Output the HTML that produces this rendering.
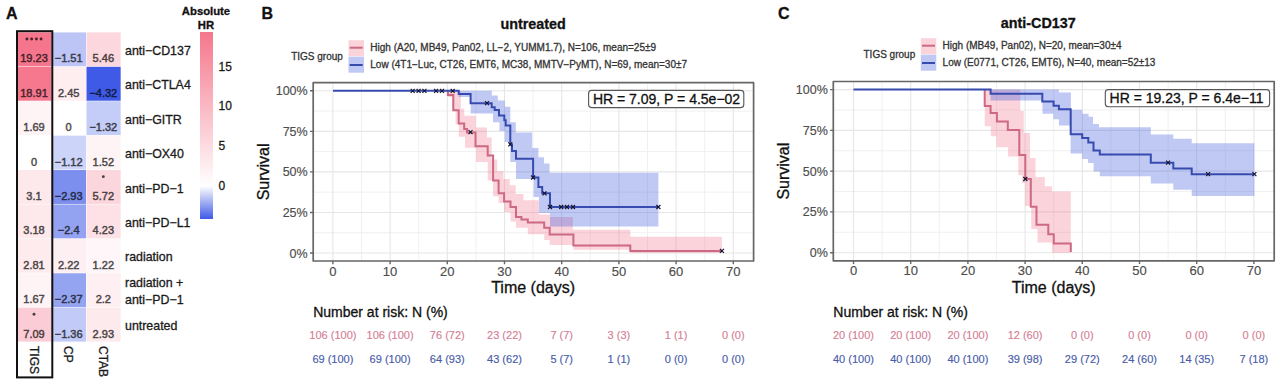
<!DOCTYPE html><html><head><meta charset="utf-8"><style>html,body{margin:0;padding:0;background:#fff;width:1280px;height:384px;overflow:hidden}svg{display:block}text{font-family:"Liberation Sans",sans-serif}</style></head><body>
<svg width="1280" height="384" viewBox="0 0 1280 384">
<rect width="1280" height="384" fill="#fff"/>
<text x="6" y="18.5" font-size="16" font-weight="bold" fill="#111" stroke="#111" stroke-width="0.3">A</text>
<text x="261.5" y="18.5" font-size="16" font-weight="bold" fill="#111" stroke="#111" stroke-width="0.3">B</text>
<text x="778" y="18.5" font-size="16" font-weight="bold" fill="#111" stroke="#111" stroke-width="0.3">C</text>
<rect x="17.20" y="32.40" width="34.15" height="33.91" fill="rgb(245,118,140)"/>
<text x="34.02" y="62.31" font-size="11" text-anchor="middle" fill="rgb(74,35,42)" stroke="rgb(74,35,42)" stroke-width="0.45">19.23</text>
<circle cx="26.97" cy="39.00" r="1.45" fill="rgb(74,35,42)"/>
<circle cx="31.67" cy="39.00" r="1.45" fill="rgb(74,35,42)"/>
<circle cx="36.38" cy="39.00" r="1.45" fill="rgb(74,35,42)"/>
<circle cx="41.08" cy="39.00" r="1.45" fill="rgb(74,35,42)"/>
<rect x="51.85" y="32.40" width="34.15" height="33.91" fill="rgb(188,197,246)"/>
<text x="68.67" y="62.31" font-size="11" text-anchor="middle" fill="rgb(56,59,74)" stroke="rgb(56,59,74)" stroke-width="0.45">−1.51</text>
<rect x="86.50" y="32.40" width="34.15" height="33.91" fill="rgb(252,216,222)"/>
<text x="103.33" y="62.31" font-size="11" text-anchor="middle" fill="rgb(76,65,67)" stroke="rgb(76,65,67)" stroke-width="0.45">5.46</text>
<text x="125" y="54.90" font-size="12.4" fill="#1a1a1a" stroke="#1a1a1a" stroke-width="0.3">anti−CD137</text>
<rect x="17.20" y="66.81" width="34.15" height="33.91" fill="rgb(245,120,142)"/>
<text x="34.02" y="96.72" font-size="11" text-anchor="middle" fill="rgb(74,36,43)" stroke="rgb(74,36,43)" stroke-width="0.45">18.91</text>
<rect x="51.85" y="66.81" width="34.15" height="33.91" fill="rgb(254,238,240)"/>
<text x="68.67" y="96.72" font-size="11" text-anchor="middle" fill="rgb(76,71,72)" stroke="rgb(76,71,72)" stroke-width="0.45">2.45</text>
<rect x="86.50" y="66.81" width="34.15" height="33.91" fill="rgb(62,90,230)"/>
<text x="103.33" y="96.72" font-size="11" text-anchor="middle" fill="rgb(19,27,69)" stroke="rgb(19,27,69)" stroke-width="0.45">−4.32</text>
<text x="125" y="89.31" font-size="12.4" fill="#1a1a1a" stroke="#1a1a1a" stroke-width="0.3">anti−CTLA4</text>
<rect x="17.20" y="101.22" width="34.15" height="33.91" fill="rgb(254,243,245)"/>
<text x="34.02" y="131.13" font-size="11" text-anchor="middle" fill="rgb(76,73,74)" stroke="rgb(76,73,74)" stroke-width="0.45">1.69</text>
<rect x="51.85" y="101.22" width="34.15" height="33.91" fill="rgb(255,255,255)"/>
<text x="68.67" y="131.13" font-size="11" text-anchor="middle" fill="rgb(76,76,76)" stroke="rgb(76,76,76)" stroke-width="0.45">0</text>
<rect x="86.50" y="101.22" width="34.15" height="33.91" fill="rgb(196,205,247)"/>
<text x="103.33" y="131.13" font-size="11" text-anchor="middle" fill="rgb(59,62,74)" stroke="rgb(59,62,74)" stroke-width="0.45">−1.32</text>
<text x="125" y="123.72" font-size="12.4" fill="#1a1a1a" stroke="#1a1a1a" stroke-width="0.3">anti−GITR</text>
<rect x="17.20" y="135.63" width="34.15" height="33.91" fill="rgb(255,255,255)"/>
<text x="34.02" y="165.54" font-size="11" text-anchor="middle" fill="rgb(76,76,76)" stroke="rgb(76,76,76)" stroke-width="0.45">0</text>
<rect x="51.85" y="135.63" width="34.15" height="33.91" fill="rgb(205,212,249)"/>
<text x="68.67" y="165.54" font-size="11" text-anchor="middle" fill="rgb(62,64,75)" stroke="rgb(62,64,75)" stroke-width="0.45">−1.12</text>
<rect x="86.50" y="135.63" width="34.15" height="33.91" fill="rgb(254,244,246)"/>
<text x="103.33" y="165.54" font-size="11" text-anchor="middle" fill="rgb(76,73,74)" stroke="rgb(76,73,74)" stroke-width="0.45">1.52</text>
<text x="125" y="158.13" font-size="12.4" fill="#1a1a1a" stroke="#1a1a1a" stroke-width="0.3">anti−OX40</text>
<rect x="17.20" y="170.04" width="34.15" height="33.91" fill="rgb(253,233,236)"/>
<text x="34.02" y="199.95" font-size="11" text-anchor="middle" fill="rgb(76,70,71)" stroke="rgb(76,70,71)" stroke-width="0.45">3.1</text>
<rect x="51.85" y="170.04" width="34.15" height="33.91" fill="rgb(124,143,238)"/>
<text x="68.67" y="199.95" font-size="11" text-anchor="middle" fill="rgb(37,43,71)" stroke="rgb(37,43,71)" stroke-width="0.45">−2.93</text>
<rect x="86.50" y="170.04" width="34.15" height="33.91" fill="rgb(252,214,221)"/>
<text x="103.33" y="199.95" font-size="11" text-anchor="middle" fill="rgb(76,64,66)" stroke="rgb(76,64,66)" stroke-width="0.45">5.72</text>
<circle cx="103.33" cy="176.64" r="1.45" fill="rgb(76,64,66)"/>
<text x="125" y="192.55" font-size="12.4" fill="#1a1a1a" stroke="#1a1a1a" stroke-width="0.3">anti−PD−1</text>
<rect x="17.20" y="204.45" width="34.15" height="33.91" fill="rgb(253,232,236)"/>
<text x="34.02" y="234.36" font-size="11" text-anchor="middle" fill="rgb(76,70,71)" stroke="rgb(76,70,71)" stroke-width="0.45">3.18</text>
<rect x="51.85" y="204.45" width="34.15" height="33.91" fill="rgb(148,163,241)"/>
<text x="68.67" y="234.36" font-size="11" text-anchor="middle" fill="rgb(44,49,72)" stroke="rgb(44,49,72)" stroke-width="0.45">−2.4</text>
<rect x="86.50" y="204.45" width="34.15" height="33.91" fill="rgb(253,225,230)"/>
<text x="103.33" y="234.36" font-size="11" text-anchor="middle" fill="rgb(76,68,69)" stroke="rgb(76,68,69)" stroke-width="0.45">4.23</text>
<text x="125" y="226.95" font-size="12.4" fill="#1a1a1a" stroke="#1a1a1a" stroke-width="0.3">anti−PD−L1</text>
<rect x="17.20" y="238.86" width="34.15" height="33.91" fill="rgb(254,235,238)"/>
<text x="34.02" y="268.77" font-size="11" text-anchor="middle" fill="rgb(76,70,71)" stroke="rgb(76,70,71)" stroke-width="0.45">2.81</text>
<rect x="51.85" y="238.86" width="34.15" height="33.91" fill="rgb(254,239,242)"/>
<text x="68.67" y="268.77" font-size="11" text-anchor="middle" fill="rgb(76,72,73)" stroke="rgb(76,72,73)" stroke-width="0.45">2.22</text>
<rect x="86.50" y="238.86" width="34.15" height="33.91" fill="rgb(254,246,248)"/>
<text x="103.33" y="268.77" font-size="11" text-anchor="middle" fill="rgb(76,74,74)" stroke="rgb(76,74,74)" stroke-width="0.45">1.22</text>
<text x="125" y="261.37" font-size="12.4" fill="#1a1a1a" stroke="#1a1a1a" stroke-width="0.3">radiation</text>
<rect x="17.20" y="273.27" width="34.15" height="33.91" fill="rgb(254,243,245)"/>
<text x="34.02" y="303.18" font-size="11" text-anchor="middle" fill="rgb(76,73,74)" stroke="rgb(76,73,74)" stroke-width="0.45">1.67</text>
<rect x="51.85" y="273.27" width="34.15" height="33.91" fill="rgb(149,164,241)"/>
<text x="68.67" y="303.18" font-size="11" text-anchor="middle" fill="rgb(45,49,72)" stroke="rgb(45,49,72)" stroke-width="0.45">−2.37</text>
<rect x="86.50" y="273.27" width="34.15" height="33.91" fill="rgb(254,239,242)"/>
<text x="103.33" y="303.18" font-size="11" text-anchor="middle" fill="rgb(76,72,73)" stroke="rgb(76,72,73)" stroke-width="0.45">2.2</text>
<text x="125" y="287.27" font-size="12.4" fill="#1a1a1a" stroke="#1a1a1a" stroke-width="0.3">radiation +</text>
<text x="125" y="304.37" font-size="12.4" fill="#1a1a1a" stroke="#1a1a1a" stroke-width="0.3">anti−PD−1</text>
<rect x="17.20" y="307.68" width="34.15" height="33.91" fill="rgb(251,204,213)"/>
<text x="34.02" y="337.59" font-size="11" text-anchor="middle" fill="rgb(75,61,64)" stroke="rgb(75,61,64)" stroke-width="0.45">7.09</text>
<circle cx="34.02" cy="314.28" r="1.45" fill="rgb(75,61,64)"/>
<rect x="51.85" y="307.68" width="34.15" height="33.91" fill="rgb(194,203,247)"/>
<text x="68.67" y="337.59" font-size="11" text-anchor="middle" fill="rgb(58,61,74)" stroke="rgb(58,61,74)" stroke-width="0.45">−1.36</text>
<rect x="86.50" y="307.68" width="34.15" height="33.91" fill="rgb(253,234,237)"/>
<text x="103.33" y="337.59" font-size="11" text-anchor="middle" fill="rgb(76,70,71)" stroke="rgb(76,70,71)" stroke-width="0.45">2.93</text>
<text x="125" y="330.18" font-size="12.4" fill="#1a1a1a" stroke="#1a1a1a" stroke-width="0.3">untreated</text>
<rect x="17" y="31.2" width="35.3" height="346.2" fill="none" stroke="#111" stroke-width="2"/>
<text transform="translate(29.62,346) rotate(90)" x="0" y="0" font-size="12" fill="#1a1a1a" dominant-baseline="auto" stroke="#1a1a1a" stroke-width="0.3">TIGS</text>
<text transform="translate(64.28,346) rotate(90)" x="0" y="0" font-size="12" fill="#1a1a1a" dominant-baseline="auto" stroke="#1a1a1a" stroke-width="0.3">CP</text>
<text transform="translate(98.93,346) rotate(90)" x="0" y="0" font-size="12" fill="#1a1a1a" dominant-baseline="auto" stroke="#1a1a1a" stroke-width="0.3">CTAB</text>
<defs><linearGradient id="cb" x1="0" y1="0" x2="0" y2="1"><stop offset="0" stop-color="rgb(245,118,140)"/><stop offset="0.8235" stop-color="#fff"/><stop offset="1" stop-color="rgb(62,90,230)"/></linearGradient></defs>
<rect x="200" y="32" width="13" height="187" fill="url(#cb)"/>
<text x="206" y="15" font-size="11.3" font-weight="bold" text-anchor="middle" fill="#111" stroke="#111" stroke-width="0.3">Absolute</text>
<text x="206" y="29.2" font-size="11.3" font-weight="bold" text-anchor="middle" fill="#111" stroke="#111" stroke-width="0.3">HR</text>
<text x="218.5" y="70.8" font-size="12" fill="#1a1a1a" stroke="#1a1a1a" stroke-width="0.3">15</text>
<text x="218.5" y="110.3" font-size="12" fill="#1a1a1a" stroke="#1a1a1a" stroke-width="0.3">10</text>
<text x="218.5" y="150.3" font-size="12" fill="#1a1a1a" stroke="#1a1a1a" stroke-width="0.3">5</text>
<text x="218.5" y="190.3" font-size="12" fill="#1a1a1a" stroke="#1a1a1a" stroke-width="0.3">0</text>
<path d="M361.50 82.70V261.00M418.70 82.70V261.00M475.90 82.70V261.00M533.10 82.70V261.00M590.30 82.70V261.00M647.50 82.70V261.00M704.70 82.70V261.00M313.20 232.72H753.60M313.20 192.18H753.60M313.20 151.62H753.60M313.20 111.08H753.60" stroke="#f0f0f0" stroke-width="1" fill="none"/>
<path d="M332.90 82.70V261.00M390.10 82.70V261.00M447.30 82.70V261.00M504.50 82.70V261.00M561.70 82.70V261.00M618.90 82.70V261.00M676.10 82.70V261.00M733.30 82.70V261.00M313.20 253.00H753.60M313.20 212.45H753.60M313.20 171.90H753.60M313.20 131.35H753.60M313.20 90.80H753.60" stroke="#e6e6e6" stroke-width="1.1" fill="none"/>
<path d="M447.90 90.80 L460.80 90.80 L460.80 108.70 L464.20 108.70 L464.20 115.70 L475.90 115.70 L475.90 127.40 L486.90 127.40 L486.90 137.50 L491.60 137.50 L491.60 159.50 L497.20 159.50 L497.20 171.25 L503.40 171.25 L503.40 179.00 L509.70 179.00 L509.70 185.30 L515.60 185.30 L515.60 194.00 L523.40 194.00 L523.40 200.30 L539.00 200.30 L539.00 214.40 L550.00 214.40 L550.00 216.90 L572.90 216.90 L572.90 229.80 L630.30 229.80 L630.30 236.80 L721.90 236.80 L721.90 253.00 L630.30 253.00 L630.30 249.70 L573.40 249.70 L573.40 245.00 L549.70 245.00 L549.70 240.00 L544.20 240.00 L544.20 234.20 L527.80 234.20 L527.80 227.80 L516.00 227.80 L516.00 221.50 L510.50 221.50 L510.50 212.00 L504.10 212.00 L504.10 203.00 L498.60 203.00 L498.60 196.25 L493.10 196.25 L493.10 180.60 L487.70 180.60 L487.70 161.90 L476.00 161.90 L476.00 147.75 L465.00 147.75 L465.00 136.80 L458.75 136.80 L458.75 124.30 L455.60 124.30 L455.60 110.00 L452.50 110.00 L452.50 97.00 L447.90 97.00Z" fill="rgb(240,110,135)" fill-opacity="0.30"/>
<path d="M458.70 90.80 L491.80 90.80 L491.80 95.50 L497.80 95.50 L497.80 100.50 L504.80 100.50 L504.80 106.70 L510.30 106.70 L510.30 122.30 L515.80 122.30 L515.80 132.50 L532.20 132.50 L532.20 148.10 L538.40 148.10 L538.40 157.20 L544.00 157.20 L544.00 163.40 L549.50 163.40 L549.50 172.80 L658.40 172.80 L658.40 226.50 L550.00 226.50 L550.00 213.00 L539.00 213.00 L539.00 197.00 L533.60 197.00 L533.60 179.00 L516.00 179.00 L516.00 161.90 L510.30 161.90 L510.30 141.90 L504.80 141.90 L504.80 131.00 L499.40 131.00 L499.40 122.30 L493.00 122.30 L493.00 113.60 L470.70 113.60 L470.70 97.00 L458.70 97.00Z" fill="rgb(60,85,220)" fill-opacity="0.32"/>
<path d="M447.9 90.8V94.9H453.3V110.2H458.7V123.5H464.2V129H467V132.5H475.5V146.2H487.7V155.6H493.1V180.6H498.6V193.2H504.1V201.4H510.5V206.9H516V216.9H521.4V219.6H527.8V222.4H544.2V227.8H549.7V234.6H573.4V245.5H630.3V250.9H721.9" stroke="rgb(205,105,130)" stroke-width="2" fill="none"/>
<path d="M333 90.8H458.7V93.9H470.6V103.2H491.7V107.2H494.7V110H499V115.4H504.3V120.2H505.7V125.4H510.3V144.4H512V151H516V158.7H533.1V177.5H538.4V187H542.2V193.3H550V207H658.4" stroke="rgb(55,75,175)" stroke-width="2" fill="none"/>
<path d="M468.50 130.20l4 4M468.50 134.20l4 -4M719.90 248.90l4 4M719.90 252.90l4 -4M410.70 88.80l4 4M410.70 92.80l4 -4M416.60 88.80l4 4M416.60 92.80l4 -4M422.40 88.80l4 4M422.40 92.80l4 -4M434.10 88.80l4 4M434.10 92.80l4 -4M440.00 88.80l4 4M440.00 92.80l4 -4M450.70 88.80l4 4M450.70 92.80l4 -4M485.00 101.20l4 4M485.00 105.20l4 -4M508.30 142.40l4 4M508.30 146.40l4 -4M531.10 175.50l4 4M531.10 179.50l4 -4M542.50 191.30l4 4M542.50 195.30l4 -4M548.00 205.00l4 4M548.00 209.00l4 -4M559.20 205.00l4 4M559.20 209.00l4 -4M565.00 205.00l4 4M565.00 209.00l4 -4M571.00 205.00l4 4M571.00 209.00l4 -4M656.40 205.00l4 4M656.40 209.00l4 -4" stroke="#151530" stroke-width="1.2" fill="none"/>
<rect x="313.20" y="82.70" width="440.40" height="178.30" fill="none" stroke="#666" stroke-width="1.7" stroke-linejoin="round"/>
<path d="M313.20 253.00h-3.2M313.20 212.45h-3.2M313.20 171.90h-3.2M313.20 131.35h-3.2M313.20 90.80h-3.2M332.90 261.00v3.2M390.10 261.00v3.2M447.30 261.00v3.2M504.50 261.00v3.2M561.70 261.00v3.2M618.90 261.00v3.2M676.10 261.00v3.2M733.30 261.00v3.2" stroke="#666" stroke-width="1.4" fill="none"/>
<text x="307.70" y="257.50" font-size="12.5" text-anchor="end" fill="#4d4d4d" stroke="#4d4d4d" stroke-width="0.15">0%</text>
<text x="307.70" y="216.95" font-size="12.5" text-anchor="end" fill="#4d4d4d" stroke="#4d4d4d" stroke-width="0.15">25%</text>
<text x="307.70" y="176.40" font-size="12.5" text-anchor="end" fill="#4d4d4d" stroke="#4d4d4d" stroke-width="0.15">50%</text>
<text x="307.70" y="135.85" font-size="12.5" text-anchor="end" fill="#4d4d4d" stroke="#4d4d4d" stroke-width="0.15">75%</text>
<text x="307.70" y="95.30" font-size="12.5" text-anchor="end" fill="#4d4d4d" stroke="#4d4d4d" stroke-width="0.15">100%</text>
<text x="332.90" y="275.50" font-size="13" text-anchor="middle" fill="#4d4d4d" stroke="#4d4d4d" stroke-width="0.15">0</text>
<text x="390.10" y="275.50" font-size="13" text-anchor="middle" fill="#4d4d4d" stroke="#4d4d4d" stroke-width="0.15">10</text>
<text x="447.30" y="275.50" font-size="13" text-anchor="middle" fill="#4d4d4d" stroke="#4d4d4d" stroke-width="0.15">20</text>
<text x="504.50" y="275.50" font-size="13" text-anchor="middle" fill="#4d4d4d" stroke="#4d4d4d" stroke-width="0.15">30</text>
<text x="561.70" y="275.50" font-size="13" text-anchor="middle" fill="#4d4d4d" stroke="#4d4d4d" stroke-width="0.15">40</text>
<text x="618.90" y="275.50" font-size="13" text-anchor="middle" fill="#4d4d4d" stroke="#4d4d4d" stroke-width="0.15">50</text>
<text x="676.10" y="275.50" font-size="13" text-anchor="middle" fill="#4d4d4d" stroke="#4d4d4d" stroke-width="0.15">60</text>
<text x="733.30" y="275.50" font-size="13" text-anchor="middle" fill="#4d4d4d" stroke="#4d4d4d" stroke-width="0.15">70</text>
<text x="533.10" y="293.00" font-size="16" text-anchor="middle" fill="#111" stroke="#111" stroke-width="0.3">Time (days)</text>
<text transform="translate(269.20,171.90) rotate(-90)" font-size="16" text-anchor="middle" fill="#111" stroke="#111" stroke-width="0.3">Survival</text>
<text x="500.40" y="28.60" font-size="14.35" font-weight="bold" fill="#111" stroke="#111" stroke-width="0.3">untreated</text>
<text x="291.20" y="59.80" font-size="10" fill="#333" stroke="#333" stroke-width="0.3">TIGS group</text>
<rect x="348.50" y="40.20" width="15.5" height="16" fill="rgb(240,110,135)" fill-opacity="0.3"/>
<rect x="348.50" y="56.70" width="15.5" height="16" fill="rgb(60,85,220)" fill-opacity="0.32"/>
<path d="M349.70 47.70h13" stroke="rgb(205,105,130)" stroke-width="2"/>
<path d="M349.70 65.00h13" stroke="rgb(55,75,175)" stroke-width="2"/>
<text x="370.30" y="51.40" font-size="10" fill="#333" stroke="#333" stroke-width="0.3">High (A20, MB49, Pan02, LL−2, YUMM1.7), N=106, mean=25±9</text>
<text x="370.30" y="68.40" font-size="10" fill="#333" stroke="#333" stroke-width="0.3">Low (4T1−Luc, CT26, EMT6, MC38, MMTV−PyMT), N=69, mean=30±7</text>
<rect x="588.60" y="90.40" width="155.20" height="17.20" rx="3" fill="#fff" stroke="#555" stroke-width="1.1"/>
<text x="592.90" y="104.20" font-size="14" fill="#111" stroke="#111" stroke-width="0.3">HR = 7.09, P = 4.5e−02</text>
<text x="313.20" y="317.2" font-size="14" fill="#111" stroke="#111" stroke-width="0.3">Number at risk: N (%)</text>
<text x="332.90" y="338.5" font-size="11" text-anchor="middle" fill="rgb(212,128,150)" stroke="rgb(212,128,150)" stroke-width="0.15">106 (100)</text>
<text x="332.90" y="363" font-size="11" text-anchor="middle" fill="rgb(72,92,168)" stroke="rgb(72,92,168)" stroke-width="0.15">69 (100)</text>
<text x="390.10" y="338.5" font-size="11" text-anchor="middle" fill="rgb(212,128,150)" stroke="rgb(212,128,150)" stroke-width="0.15">106 (100)</text>
<text x="390.10" y="363" font-size="11" text-anchor="middle" fill="rgb(72,92,168)" stroke="rgb(72,92,168)" stroke-width="0.15">69 (100)</text>
<text x="447.30" y="338.5" font-size="11" text-anchor="middle" fill="rgb(212,128,150)" stroke="rgb(212,128,150)" stroke-width="0.15">76 (72)</text>
<text x="447.30" y="363" font-size="11" text-anchor="middle" fill="rgb(72,92,168)" stroke="rgb(72,92,168)" stroke-width="0.15">64 (93)</text>
<text x="504.50" y="338.5" font-size="11" text-anchor="middle" fill="rgb(212,128,150)" stroke="rgb(212,128,150)" stroke-width="0.15">23 (22)</text>
<text x="504.50" y="363" font-size="11" text-anchor="middle" fill="rgb(72,92,168)" stroke="rgb(72,92,168)" stroke-width="0.15">43 (62)</text>
<text x="561.70" y="338.5" font-size="11" text-anchor="middle" fill="rgb(212,128,150)" stroke="rgb(212,128,150)" stroke-width="0.15">7 (7)</text>
<text x="561.70" y="363" font-size="11" text-anchor="middle" fill="rgb(72,92,168)" stroke="rgb(72,92,168)" stroke-width="0.15">5 (7)</text>
<text x="618.90" y="338.5" font-size="11" text-anchor="middle" fill="rgb(212,128,150)" stroke="rgb(212,128,150)" stroke-width="0.15">3 (3)</text>
<text x="618.90" y="363" font-size="11" text-anchor="middle" fill="rgb(72,92,168)" stroke="rgb(72,92,168)" stroke-width="0.15">1 (1)</text>
<text x="676.10" y="338.5" font-size="11" text-anchor="middle" fill="rgb(212,128,150)" stroke="rgb(212,128,150)" stroke-width="0.15">1 (1)</text>
<text x="676.10" y="363" font-size="11" text-anchor="middle" fill="rgb(72,92,168)" stroke="rgb(72,92,168)" stroke-width="0.15">0 (0)</text>
<text x="733.30" y="338.5" font-size="11" text-anchor="middle" fill="rgb(212,128,150)" stroke="rgb(212,128,150)" stroke-width="0.15">0 (0)</text>
<text x="733.30" y="363" font-size="11" text-anchor="middle" fill="rgb(72,92,168)" stroke="rgb(72,92,168)" stroke-width="0.15">0 (0)</text>
<path d="M882.10 81.50V260.80M939.30 81.50V260.80M996.50 81.50V260.80M1053.70 81.50V260.80M1110.90 81.50V260.80M1168.10 81.50V260.80M1225.30 81.50V260.80M833.30 232.31H1274.20M833.30 191.54H1274.20M833.30 150.76H1274.20M833.30 109.99H1274.20" stroke="#f0f0f0" stroke-width="1" fill="none"/>
<path d="M853.50 81.50V260.80M910.70 81.50V260.80M967.90 81.50V260.80M1025.10 81.50V260.80M1082.30 81.50V260.80M1139.50 81.50V260.80M1196.70 81.50V260.80M1253.90 81.50V260.80M833.30 252.70H1274.20M833.30 211.92H1274.20M833.30 171.15H1274.20M833.30 130.38H1274.20M833.30 89.60H1274.20" stroke="#e6e6e6" stroke-width="1.1" fill="none"/>
<path d="M984.70 89.60 L1020.30 89.60 L1020.30 111.00 L1023.75 111.00 L1023.75 133.00 L1030.00 133.00 L1030.00 158.00 L1035.50 158.00 L1035.50 177.00 L1044.80 177.00 L1044.80 186.25 L1052.00 186.25 L1052.00 191.50 L1070.80 191.50 L1070.80 252.70 L1052.00 252.70 L1052.00 242.50 L1037.50 242.50 L1037.50 229.00 L1031.25 229.00 L1031.25 206.00 L1025.00 206.00 L1025.00 183.10 L1022.20 183.10 L1022.20 175.30 L1018.30 175.30 L1018.30 156.60 L1008.10 156.60 L1008.10 147.20 L996.40 147.20 L996.40 136.25 L990.90 136.25 L990.90 126.20 L984.70 126.20Z" fill="rgb(240,110,135)" fill-opacity="0.30"/>
<path d="M990.60 89.60 L1058.90 89.60 L1058.90 92.60 L1070.90 92.60 L1070.90 109.80 L1082.30 109.80 L1082.30 113.70 L1088.60 113.70 L1088.60 116.80 L1093.00 116.80 L1093.00 123.90 L1099.00 123.90 L1099.00 127.30 L1150.80 127.30 L1150.80 134.60 L1173.30 134.60 L1173.30 138.75 L1191.70 138.75 L1191.70 143.30 L1254.40 143.30 L1254.40 196.00 L1191.70 196.00 L1191.70 189.80 L1173.30 189.80 L1173.30 183.50 L1150.80 183.50 L1150.80 176.25 L1099.80 176.25 L1099.80 171.60 L1093.60 171.60 L1093.60 163.00 L1088.10 163.00 L1088.10 159.00 L1082.20 159.00 L1082.20 153.60 L1070.60 153.60 L1070.60 125.40 L1058.90 125.40 L1058.90 119.20 L1053.40 119.20 L1053.40 113.70 L1042.50 113.70 L1042.50 100.40 L990.60 100.40Z" fill="rgb(60,85,220)" fill-opacity="0.32"/>
<path d="M984.7 89.6V105.9H990.6V112.9H996.9V121.5H1007.8V130.1H1019.3V155H1025.3V179H1030.8V206.7H1036.5V224.8H1048.3V234.2H1053.75V243.5H1070.8V251.9" stroke="rgb(205,105,130)" stroke-width="2" fill="none"/>
<path d="M853.5 89.6H990.6V93.7H1042.3V101.4H1053.6V105.7H1058.9V109.3H1070.7V134.2H1082.2V138H1088.3V142.4H1093.5V150.5H1099.8V154.6H1150.8V162.7H1173.3V168.5H1191.7V174.2H1254.4" stroke="rgb(55,75,175)" stroke-width="2" fill="none"/>
<path d="M1023.30 177.00l4 4M1023.30 181.00l4 -4M1166.10 160.70l4 4M1166.10 164.70l4 -4M1206.10 172.20l4 4M1206.10 176.20l4 -4M1252.40 172.20l4 4M1252.40 176.20l4 -4" stroke="#151530" stroke-width="1.2" fill="none"/>
<rect x="833.30" y="81.50" width="440.90" height="179.30" fill="none" stroke="#666" stroke-width="1.7" stroke-linejoin="round"/>
<path d="M833.30 252.70h-3.2M833.30 211.92h-3.2M833.30 171.15h-3.2M833.30 130.38h-3.2M833.30 89.60h-3.2M853.50 260.80v3.2M910.70 260.80v3.2M967.90 260.80v3.2M1025.10 260.80v3.2M1082.30 260.80v3.2M1139.50 260.80v3.2M1196.70 260.80v3.2M1253.90 260.80v3.2" stroke="#666" stroke-width="1.4" fill="none"/>
<text x="827.80" y="257.20" font-size="12.5" text-anchor="end" fill="#4d4d4d" stroke="#4d4d4d" stroke-width="0.15">0%</text>
<text x="827.80" y="216.42" font-size="12.5" text-anchor="end" fill="#4d4d4d" stroke="#4d4d4d" stroke-width="0.15">25%</text>
<text x="827.80" y="175.65" font-size="12.5" text-anchor="end" fill="#4d4d4d" stroke="#4d4d4d" stroke-width="0.15">50%</text>
<text x="827.80" y="134.88" font-size="12.5" text-anchor="end" fill="#4d4d4d" stroke="#4d4d4d" stroke-width="0.15">75%</text>
<text x="827.80" y="94.10" font-size="12.5" text-anchor="end" fill="#4d4d4d" stroke="#4d4d4d" stroke-width="0.15">100%</text>
<text x="853.50" y="275.30" font-size="13" text-anchor="middle" fill="#4d4d4d" stroke="#4d4d4d" stroke-width="0.15">0</text>
<text x="910.70" y="275.30" font-size="13" text-anchor="middle" fill="#4d4d4d" stroke="#4d4d4d" stroke-width="0.15">10</text>
<text x="967.90" y="275.30" font-size="13" text-anchor="middle" fill="#4d4d4d" stroke="#4d4d4d" stroke-width="0.15">20</text>
<text x="1025.10" y="275.30" font-size="13" text-anchor="middle" fill="#4d4d4d" stroke="#4d4d4d" stroke-width="0.15">30</text>
<text x="1082.30" y="275.30" font-size="13" text-anchor="middle" fill="#4d4d4d" stroke="#4d4d4d" stroke-width="0.15">40</text>
<text x="1139.50" y="275.30" font-size="13" text-anchor="middle" fill="#4d4d4d" stroke="#4d4d4d" stroke-width="0.15">50</text>
<text x="1196.70" y="275.30" font-size="13" text-anchor="middle" fill="#4d4d4d" stroke="#4d4d4d" stroke-width="0.15">60</text>
<text x="1253.90" y="275.30" font-size="13" text-anchor="middle" fill="#4d4d4d" stroke="#4d4d4d" stroke-width="0.15">70</text>
<text x="1053.70" y="292.80" font-size="16" text-anchor="middle" fill="#111" stroke="#111" stroke-width="0.3">Time (days)</text>
<text transform="translate(789.30,171.15) rotate(-90)" font-size="16" text-anchor="middle" fill="#111" stroke="#111" stroke-width="0.3">Survival</text>
<text x="1000.80" y="27.80" font-size="14.35" font-weight="bold" fill="#111" stroke="#111" stroke-width="0.3">anti-CD137</text>
<text x="863.50" y="57.80" font-size="10" fill="#333" stroke="#333" stroke-width="0.3">TIGS group</text>
<rect x="920.80" y="38.20" width="15.5" height="16" fill="rgb(240,110,135)" fill-opacity="0.3"/>
<rect x="920.80" y="54.70" width="15.5" height="16" fill="rgb(60,85,220)" fill-opacity="0.32"/>
<path d="M922.00 45.70h13" stroke="rgb(205,105,130)" stroke-width="2"/>
<path d="M922.00 63.00h13" stroke="rgb(55,75,175)" stroke-width="2"/>
<text x="942.60" y="49.40" font-size="10" fill="#333" stroke="#333" stroke-width="0.3">High (MB49, Pan02), N=20, mean=30±4</text>
<text x="942.60" y="66.40" font-size="10" fill="#333" stroke="#333" stroke-width="0.3">Low (E0771, CT26, EMT6), N=40, mean=52±13</text>
<rect x="1105.30" y="89.60" width="164.30" height="17.20" rx="3" fill="#fff" stroke="#555" stroke-width="1.1"/>
<text x="1109.60" y="103.40" font-size="14" fill="#111" stroke="#111" stroke-width="0.3">HR = 19.23, P = 6.4e−11</text>
<text x="833.30" y="317.2" font-size="14" fill="#111" stroke="#111" stroke-width="0.3">Number at risk: N (%)</text>
<text x="853.50" y="338.5" font-size="11" text-anchor="middle" fill="rgb(212,128,150)" stroke="rgb(212,128,150)" stroke-width="0.15">20 (100)</text>
<text x="853.50" y="363" font-size="11" text-anchor="middle" fill="rgb(72,92,168)" stroke="rgb(72,92,168)" stroke-width="0.15">40 (100)</text>
<text x="910.70" y="338.5" font-size="11" text-anchor="middle" fill="rgb(212,128,150)" stroke="rgb(212,128,150)" stroke-width="0.15">20 (100)</text>
<text x="910.70" y="363" font-size="11" text-anchor="middle" fill="rgb(72,92,168)" stroke="rgb(72,92,168)" stroke-width="0.15">40 (100)</text>
<text x="967.90" y="338.5" font-size="11" text-anchor="middle" fill="rgb(212,128,150)" stroke="rgb(212,128,150)" stroke-width="0.15">20 (100)</text>
<text x="967.90" y="363" font-size="11" text-anchor="middle" fill="rgb(72,92,168)" stroke="rgb(72,92,168)" stroke-width="0.15">40 (100)</text>
<text x="1025.10" y="338.5" font-size="11" text-anchor="middle" fill="rgb(212,128,150)" stroke="rgb(212,128,150)" stroke-width="0.15">12 (60)</text>
<text x="1025.10" y="363" font-size="11" text-anchor="middle" fill="rgb(72,92,168)" stroke="rgb(72,92,168)" stroke-width="0.15">39 (98)</text>
<text x="1082.30" y="338.5" font-size="11" text-anchor="middle" fill="rgb(212,128,150)" stroke="rgb(212,128,150)" stroke-width="0.15">0 (0)</text>
<text x="1082.30" y="363" font-size="11" text-anchor="middle" fill="rgb(72,92,168)" stroke="rgb(72,92,168)" stroke-width="0.15">29 (72)</text>
<text x="1139.50" y="338.5" font-size="11" text-anchor="middle" fill="rgb(212,128,150)" stroke="rgb(212,128,150)" stroke-width="0.15">0 (0)</text>
<text x="1139.50" y="363" font-size="11" text-anchor="middle" fill="rgb(72,92,168)" stroke="rgb(72,92,168)" stroke-width="0.15">24 (60)</text>
<text x="1196.70" y="338.5" font-size="11" text-anchor="middle" fill="rgb(212,128,150)" stroke="rgb(212,128,150)" stroke-width="0.15">0 (0)</text>
<text x="1196.70" y="363" font-size="11" text-anchor="middle" fill="rgb(72,92,168)" stroke="rgb(72,92,168)" stroke-width="0.15">14 (35)</text>
<text x="1253.90" y="338.5" font-size="11" text-anchor="middle" fill="rgb(212,128,150)" stroke="rgb(212,128,150)" stroke-width="0.15">0 (0)</text>
<text x="1253.90" y="363" font-size="11" text-anchor="middle" fill="rgb(72,92,168)" stroke="rgb(72,92,168)" stroke-width="0.15">7 (18)</text>
</svg></body></html>
